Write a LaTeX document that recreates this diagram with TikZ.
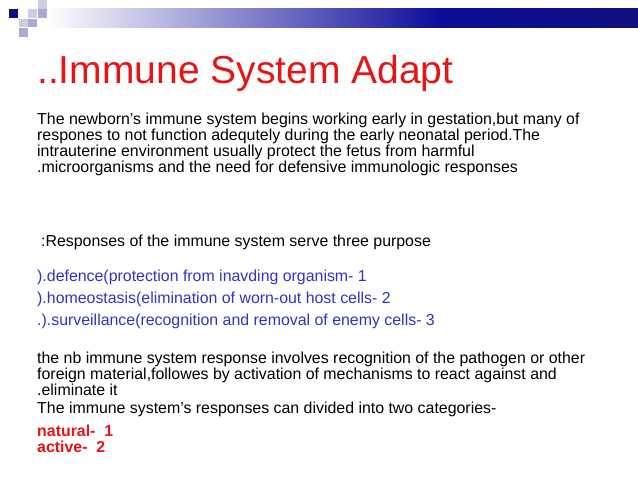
\documentclass[tikz,border=0pt]{standalone}
\usepackage{fontspec}
\setmainfont{Liberation Sans}
\definecolor{navy}{RGB}{16,16,128}
\definecolor{lsq}{RGB}{170,170,210}
\definecolor{llsq}{RGB}{205,205,230}
\definecolor{tred}{RGB}{230,20,20}
\definecolor{tblue}{RGB}{50,50,200}
\begin{document}
\begin{tikzpicture}[x=1pt,y=-1pt,
  body/.style={anchor=base west,inner sep=0pt,font=\fontsize{15.9}{16}\selectfont}]
\useasboundingbox (0,0) rectangle (638,478);
\shade[left color=white,right color=navy!80!blue] (47,9) rectangle (440,28);
\shade[left color=navy!80!blue,right color=navy] (440,9) rectangle (638,28);
\fill[navy] (9,9) rectangle (18,18);
\fill[llsq] (28,9) rectangle (37,18);
\fill[lsq] (38,9) rectangle (47,18);
\fill[llsq] (38,0) rectangle (47,9);
\fill[lsq] (28,19) rectangle (37,27);
\fill[llsq] (19,19) rectangle (28,27);
\fill[lsq] (19,28) rectangle (28,37);
\node[anchor=base west,inner sep=0pt,text=tred,font=\fontsize{39}{40}\selectfont] (t) at (37,84) {..Immune System Adapt};
\node[body] (p1) at (37,125) {The newborn’s immune system begins working early in gestation,but many of};
\node[body] (p2) at (37,141) {respones to not function adequtely during the early neonatal period.The};
\node[body] (p3) at (37,157) {intrauterine environment usually protect the fetus from harmful};
\node[body] (p4) at (37,173) {.microorganisms and the need for defensive immunologic responses};
\node[body] (r) at (41,247) {:Responses of the immune system serve three purpose};
\node[body,text=tblue] (b1) at (37,282) {).defence(protection from inavding organism- 1};
\node[body,text=tblue] (b2) at (37,304) {).homeostasis(elimination of worn-out host cells- 2};
\node[body,text=tblue] (b3) at (37,326) {.).surveillance(recognition and removal of enemy cells- 3};
\node[body] (q1) at (37,364) {the nb immune system response involves recognition of the pathogen or other};
\node[body] (q2) at (37,380) {foreign material,followes by activation of mechanisms to react against and};
\node[body] (q3) at (37,396) {.eliminate it};
\node[body] (q4) at (37,414) {The immune system’s responses can divided into two categories-};
\node[body,text=tred,font=\fontsize{15.9}{16}\selectfont\bfseries] (n1) at (37,437) {natural-\ \ 1};
\node[body,text=tred,font=\fontsize{15.9}{16}\selectfont\bfseries] (n2) at (37,453) {active-\ \ 2};
\end{tikzpicture}
\end{document}
